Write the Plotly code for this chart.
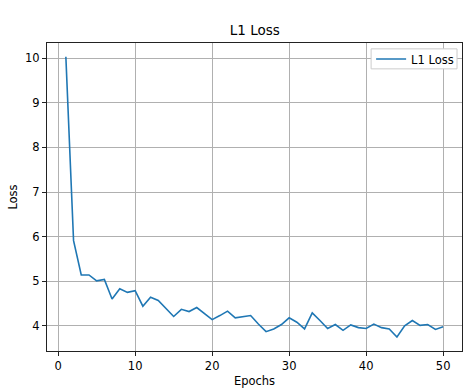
import plotly.graph_objects as go

epochs = list(range(1, 51))
l1_loss = [10.03, 5.91, 5.14, 5.14, 5.01, 5.04, 4.60, 4.83, 4.75, 4.79,
           4.44, 4.64, 4.57, 4.38, 4.21, 4.37, 4.32, 4.41, 4.28, 4.14,
           4.23, 4.33, 4.18, 4.21, 4.23, 4.04, 3.87, 3.93, 4.03, 4.18,
           4.08, 3.93, 4.29, 4.12, 3.94, 4.03, 3.90, 4.02, 3.96, 3.94,
           4.04, 3.96, 3.93, 3.75, 4.00, 4.12, 4.01, 4.03, 3.92, 3.98]
x_ticks = [0, 10, 20, 30, 40, 50]
y_ticks = [4, 5, 6, 7, 8, 9, 10]

font = "DejaVu Sans"
fs = 11.5
fig = go.Figure()
fig.add_trace(go.Scatter(x=epochs, y=l1_loss, mode="lines", name="L1 Loss",
                         line=dict(color="#1f77b4", width=1.6)))

axis_common = dict(showline=True, linecolor="#222222", linewidth=1.2, mirror=True,
                   ticks="outside", ticklen=4, tickcolor="#222222",
                   showgrid=True, gridcolor="#b0b0b0", gridwidth=1,
                   zeroline=False, automargin=False,
                   tickfont=dict(family=font, size=fs, color="black"))

# legend frame (matplotlib-style box)
fig.add_shape(type="rect", xref="x domain", yref="y domain",
              x0=0.781, x1=0.988, y0=0.916, y1=0.981,
              line=dict(color="#cccccc", width=1), fillcolor="white", layer="above")

fig.update_layout(
    width=471, height=391,
    margin=dict(l=47, r=9, t=43, b=40),
    paper_bgcolor="white", plot_bgcolor="white",
    title=dict(text="L1 Loss", x=0.541, xanchor="center", y=0.923, yanchor="middle",
               font=dict(family=font, size=13.5, color="black")),
    xaxis=dict(range=[-1.45, 52.45], tickvals=x_ticks,
               title=dict(text="Epochs", font=dict(family=font, size=fs, color="black"), standoff=5),
               **axis_common),
    yaxis=dict(range=[3.436, 10.34], tickvals=y_ticks,
               title=dict(text="Loss", font=dict(family=font, size=fs, color="black"), standoff=4),
               **axis_common),
    legend=dict(x=0.781, y=0.948, xanchor="left", yanchor="middle",
                bgcolor="rgba(0,0,0,0)", borderwidth=0,
                font=dict(family=font, size=fs, color="black"),
                itemwidth=30),
    showlegend=True,
)

fig.write_html("out.html", config={"displayModeBar": False},
               post_script="document.body.style.margin='0';document.body.style.overflow='hidden';")
